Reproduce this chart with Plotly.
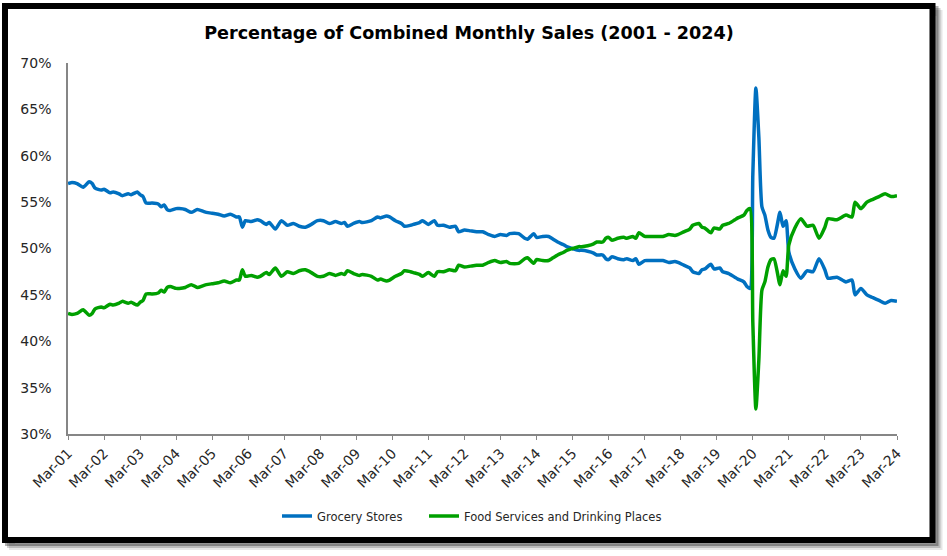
import plotly.graph_objects as go

# Month dates (sampled readings from the chart)
dates = [
    "2001-03", "2001-04", "2001-06", "2001-08", "2001-10", "2001-11", "2001-12",
    "2002-02", "2002-03", "2002-05", "2002-06", "2002-08", "2002-09", "2002-11", "2002-12",
    "2003-02", "2003-03", "2003-04", "2003-05", "2003-07", "2003-09", "2003-10", "2003-11", "2003-12",
    "2004-01", "2004-03", "2004-04", "2004-06", "2004-08", "2004-10", "2004-12",
    "2005-01", "2005-03", "2005-05", "2005-07", "2005-09", "2005-11", "2005-12",
    "2006-01", "2006-02", "2006-04", "2006-06", "2006-07", "2006-09", "2006-10", "2006-12",
    "2007-02", "2007-04", "2007-06", "2007-08", "2007-10", "2007-12",
    "2008-02", "2008-04", "2008-06", "2008-08", "2008-10", "2008-11", "2008-12",
    "2009-02", "2009-04", "2009-05", "2009-08", "2009-10", "2009-11",
    "2010-01", "2010-02", "2010-04", "2010-06", "2010-07", "2010-09", "2010-10", "2010-12",
    "2011-01", "2011-03", "2011-05", "2011-06", "2011-08", "2011-10", "2011-12",
    "2012-01", "2012-03", "2012-05", "2012-07", "2012-09", "2012-11",
    "2013-01", "2013-03", "2013-05", "2013-06", "2013-09", "2013-11", "2013-12",
    "2014-02", "2014-03", "2014-05", "2014-07", "2014-08", "2014-10", "2014-12",
    "2015-01", "2015-03", "2015-05", "2015-06", "2015-08", "2015-10", "2015-11",
    "2016-01", "2016-02", "2016-03", "2016-04", "2016-06", "2016-08", "2016-09", "2016-11", "2016-12",
    "2017-01", "2017-03", "2017-05", "2017-07", "2017-09", "2017-11",
    "2018-01", "2018-02", "2018-04", "2018-06", "2018-07", "2018-09", "2018-10", "2018-11",
    "2019-01", "2019-02", "2019-04", "2019-05", "2019-07", "2019-09", "2019-10", "2019-12",
    "2020-01", "2020-02", "2020-03", "2020-04", "2020-05", "2020-06", "2020-07", "2020-08",
    "2020-09", "2020-10", "2020-11", "2020-12",
    "2021-01", "2021-02", "2021-03", "2021-05", "2021-07", "2021-09", "2021-11",
    "2022-01", "2022-03", "2022-04", "2022-07", "2022-10", "2022-12",
    "2023-01", "2023-03", "2023-05", "2023-07", "2023-09", "2023-11",
    "2024-01", "2024-03",
]

grocery_stores = [
    57.0, 57.1, 57.0, 56.6, 57.2, 57.0, 56.5,
    56.3, 56.4, 56.0, 56.1, 55.9, 55.7, 55.9, 55.8,
    56.1, 55.8, 55.6, 54.9, 54.9, 54.8, 54.5, 54.7, 54.2,
    54.1, 54.3, 54.3, 54.2, 53.9, 54.2, 54.0,
    53.9, 53.8, 53.7, 53.5, 53.7, 53.4, 53.4,
    52.3, 53.0, 52.9, 53.1, 53.0, 52.6, 52.8, 52.1,
    53.0, 52.5, 52.7, 52.4, 52.3, 52.6,
    53.0, 53.0, 52.7, 52.9, 52.7, 52.8, 52.4,
    52.7, 52.9, 52.8, 53.0, 53.4, 53.3,
    53.5, 53.4, 53.0, 52.7, 52.4, 52.5, 52.6, 52.8,
    53.0, 52.6, 53.0, 52.5, 52.5, 52.3, 52.4,
    51.8, 52.0, 51.9, 51.8, 51.8, 51.5,
    51.3, 51.5, 51.4, 51.6, 51.6, 51.1, 51.0,
    51.6, 51.2, 51.3, 51.3, 51.1, 50.7, 50.4,
    50.2, 50.0, 49.8, 49.8, 49.7, 49.5, 49.3,
    49.3, 48.9, 48.8, 49.1, 48.9, 48.8, 48.9, 48.7, 48.9,
    48.3, 48.7, 48.7, 48.7, 48.7, 48.5,
    48.6, 48.5, 48.2, 47.9, 47.5, 47.3, 47.7, 47.8,
    48.3, 47.8, 47.9, 47.5, 47.3, 46.9, 46.7, 46.4,
    45.9, 45.7, 58.0, 67.3, 62.0, 54.5, 53.6, 52.0,
    51.2, 51.1, 52.4, 53.9,
    52.4, 53.0, 49.6, 47.8, 46.8, 47.6, 47.5,
    48.9, 47.7, 46.8, 46.9, 46.4, 46.6,
    45.0, 45.7, 45.0, 44.7, 44.4, 44.1,
    44.4, 44.3,
]

food_services = [
    43.0, 42.9, 43.0, 43.4, 42.8, 43.0, 43.5,
    43.7, 43.6, 44.0, 43.9, 44.1, 44.3, 44.1, 44.2,
    43.9, 44.2, 44.4, 45.1, 45.1, 45.2, 45.5, 45.3, 45.8,
    45.9, 45.7, 45.7, 45.8, 46.1, 45.8, 46.0,
    46.1, 46.2, 46.3, 46.5, 46.3, 46.6, 46.6,
    47.7, 47.0, 47.1, 46.9, 47.0, 47.4, 47.2, 47.9,
    47.0, 47.5, 47.3, 47.6, 47.7, 47.4,
    47.0, 47.0, 47.3, 47.1, 47.3, 47.2, 47.6,
    47.3, 47.1, 47.2, 47.0, 46.6, 46.7,
    46.5, 46.6, 47.0, 47.3, 47.6, 47.5, 47.4, 47.2,
    47.0, 47.4, 47.0, 47.5, 47.5, 47.7, 47.6,
    48.2, 48.0, 48.1, 48.2, 48.2, 48.5,
    48.7, 48.5, 48.6, 48.4, 48.4, 48.9, 49.0,
    48.4, 48.8, 48.7, 48.7, 48.9, 49.3, 49.6,
    49.8, 50.0, 50.2, 50.2, 50.3, 50.5, 50.7,
    50.7, 51.1, 51.2, 50.9, 51.1, 51.2, 51.1, 51.3, 51.1,
    51.7, 51.3, 51.3, 51.3, 51.3, 51.5,
    51.4, 51.5, 51.8, 52.1, 52.5, 52.7, 52.3, 52.2,
    51.7, 52.2, 52.1, 52.5, 52.7, 53.1, 53.3, 53.6,
    54.1, 54.3, 42.0, 32.7, 38.0, 45.5, 46.4, 48.0,
    48.8, 48.9, 47.6, 46.1,
    47.6, 47.0, 50.4, 52.2, 53.2, 52.4, 52.5,
    51.1, 52.3, 53.2, 53.1, 53.6, 53.4,
    55.0, 54.3, 55.0, 55.3, 55.6, 55.9,
    55.6, 55.7,
]

y_ticks = [30, 35, 40, 45, 50, 55, 60, 65, 70]
y_tick_labels = ["30%", "35%", "40%", "45%", "50%", "55%", "60%", "65%", "70%"]

W, H = 947, 556
L, R, T, B = 68, 50, 63, 122
PW, PH = W - L - R, H - T - B


def px_x(p):
    return (p - L) / PW


def px_y(p):
    return (H - B - p) / PH


fig = go.Figure()
fig.add_trace(go.Scatter(
    x=dates, y=grocery_stores, name="Grocery Stores", mode="lines",
    line=dict(color="#0070C0", width=3.5, shape="spline", smoothing=0.6),
    legend="legend",
))
fig.add_trace(go.Scatter(
    x=dates, y=food_services, name="Food Services and Drinking Places", mode="lines",
    line=dict(color="#00A000", width=3.5, shape="spline", smoothing=0.6),
    legend="legend2",
))

shapes = []
# soft shadow
for off, alpha in [(7, 0.10), (5, 0.18), (3, 0.30)]:
    shapes.append(dict(
        type="rect", xref="paper", yref="paper",
        x0=px_x(5 + off), x1=px_x(932.5 + off), y0=px_y(540 + off), y1=px_y(6 + off),
        line=dict(color=f"rgba(0,0,0,{alpha})", width=6), layer="below",
    ))
shapes.append(dict(
    type="rect", xref="paper", yref="paper",
    x0=px_x(5), x1=px_x(932.5), y0=px_y(540), y1=px_y(6),
    line=dict(color="black", width=6), fillcolor="white", layer="below",
))

legend_style = dict(
    orientation="h", xanchor="left", y=px_y(516), yanchor="middle",
    font=dict(size=11.5, color="#262626"), bgcolor="rgba(0,0,0,0)",
    itemwidth=30,
)

fig.update_layout(
    width=W, height=H,
    margin=dict(l=L, r=R, t=T, b=B),
    paper_bgcolor="white", plot_bgcolor="rgba(0,0,0,0)",
    font=dict(family="DejaVu Sans", color="#262626"),
    title=dict(
        text="<b>Percentage of Combined Monthly Sales (2001 - 2024)</b>",
        x=469 / W, xanchor="center", y=1 - 33 / H, yanchor="middle",
        font=dict(size=17.6, color="black", family="DejaVu Sans"),
    ),
    showlegend=True,
    legend=dict(x=px_x(277), **legend_style),
    legend2=dict(x=px_x(424), **legend_style),
    shapes=shapes,
)
fig.update_xaxes(
    type="date", range=["2001-03-01", "2024-03-01"],
    tick0="2001-03-01", dtick="M12", tickformat="%b-%y", tickangle=-45,
    ticks="outside", ticklen=4, tickcolor="#868686",
    showline=True, linecolor="#868686", linewidth=1.5,
    showgrid=False, zeroline=False,
    tickfont=dict(size=14, color="#262626"),
)
fig.update_yaxes(
    range=[30, 70], tickmode="array", tickvals=y_ticks, ticktext=y_tick_labels,
    showline=True, linecolor="#868686", linewidth=1.5,
    showgrid=False, zeroline=False, ticks="", ticklabelstandoff=12,
    tickfont=dict(size=14, color="#262626"),
)

fig.write_html(
    "out.html",
    config={"displayModeBar": False},
    post_script="document.body.style.margin='0';document.body.style.overflow='hidden';",
)
